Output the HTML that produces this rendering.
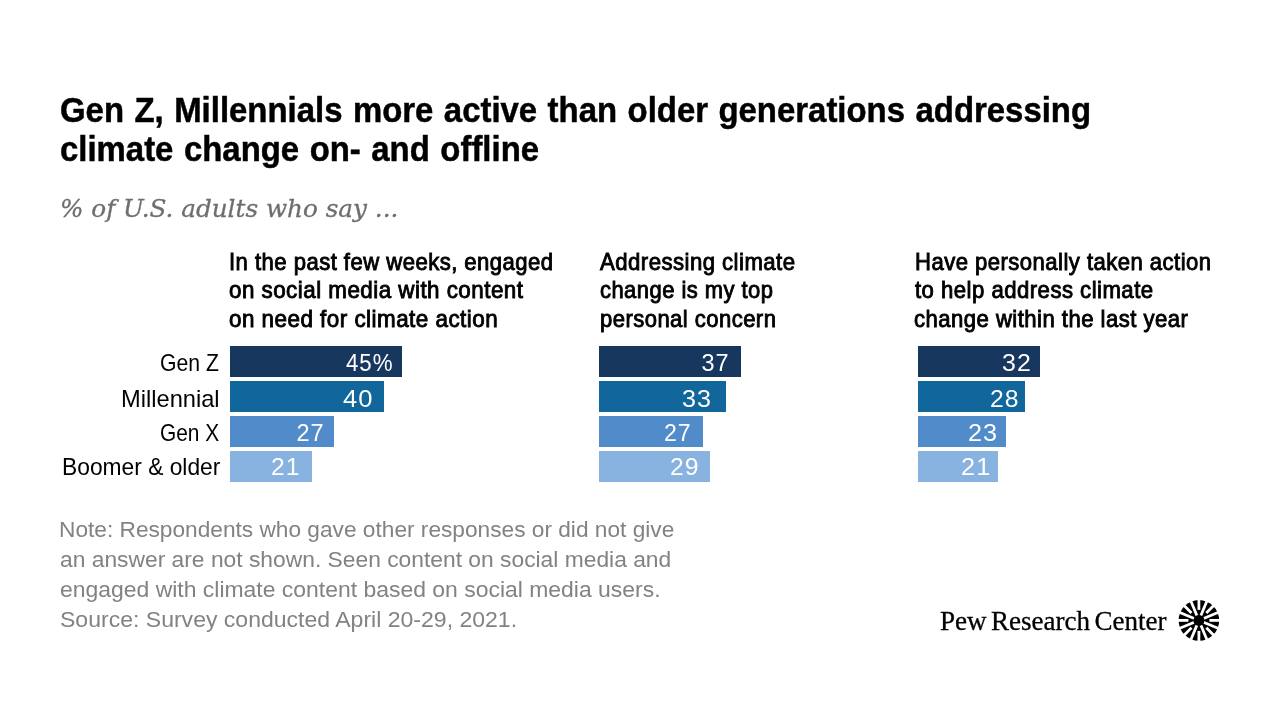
<!DOCTYPE html>
<html lang="en"><head><meta charset="utf-8"><title>Gen Z, Millennials more active than older generations addressing climate change on- and offline</title>
<style>
html,body{margin:0;padding:0;background:#fff}
body{width:1280px;height:720px;position:relative;overflow:hidden;font-family:"Liberation Sans",sans-serif}
span{position:absolute;white-space:pre;transform-origin:0 0;display:block}
.b{position:absolute;height:31.4px}
.logo{position:absolute;left:0;top:0}
</style></head><body>
<div class="b" style="left:230.1px;top:345.5px;width:171.9px;background:#17375e"></div>
<div class="b" style="left:230.1px;top:380.5px;width:153.9px;background:#11669b"></div>
<div class="b" style="left:230.1px;top:415.5px;width:104.1px;background:#528bca"></div>
<div class="b" style="left:230.1px;top:450.5px;width:81.7px;background:#88b2df"></div>
<div class="b" style="left:599px;top:345.5px;width:141.8px;background:#17375e"></div>
<div class="b" style="left:599px;top:380.5px;width:126.6px;background:#11669b"></div>
<div class="b" style="left:599px;top:415.5px;width:103.7px;background:#528bca"></div>
<div class="b" style="left:599px;top:450.5px;width:111.2px;background:#88b2df"></div>
<div class="b" style="left:917.5px;top:345.5px;width:122.3px;background:#17375e"></div>
<div class="b" style="left:917.5px;top:380.5px;width:107.3px;background:#11669b"></div>
<div class="b" style="left:917.5px;top:415.5px;width:88.1px;background:#528bca"></div>
<div class="b" style="left:917.5px;top:450.5px;width:80.4px;background:#88b2df"></div>
<svg class="logo" width="1280" height="720" viewBox="0 0 1280 720"><circle cx="1198.9" cy="620.4" r="20.3" fill="#000"/><g stroke="#fff" stroke-width="2.8"><line x1="1198.90" y1="609.90" x2="1198.90" y2="599.10"/><line x1="1200.81" y1="615.78" x2="1207.05" y2="600.72"/><line x1="1206.32" y1="612.98" x2="1213.96" y2="605.34"/><line x1="1203.52" y1="618.49" x2="1218.58" y2="612.25"/><line x1="1209.40" y1="620.40" x2="1220.20" y2="620.40"/><line x1="1203.52" y1="622.31" x2="1218.58" y2="628.55"/><line x1="1206.32" y1="627.82" x2="1213.96" y2="635.46"/><line x1="1200.81" y1="625.02" x2="1207.05" y2="640.08"/><line x1="1198.90" y1="630.90" x2="1198.90" y2="641.70"/><line x1="1196.99" y1="625.02" x2="1190.75" y2="640.08"/><line x1="1191.48" y1="627.82" x2="1183.84" y2="635.46"/><line x1="1194.28" y1="622.31" x2="1179.22" y2="628.55"/><line x1="1188.40" y1="620.40" x2="1177.60" y2="620.40"/><line x1="1194.28" y1="618.49" x2="1179.22" y2="612.25"/><line x1="1191.48" y1="612.98" x2="1183.84" y2="605.34"/><line x1="1196.99" y1="615.78" x2="1190.75" y2="600.72"/></g><circle cx="1198.9" cy="620.4" r="5.5" fill="#000"/></svg>
<span style="left:59.87px;top:93.00px;font:normal bold 35.4px/1 'Liberation Sans', sans-serif;color:#000;letter-spacing:0px;word-spacing:1.41px;transform:scaleX(0.9300);-webkit-text-stroke:0.5px #000;">Gen Z, Millennials more active than older generations addressing</span>
<span style="left:59.87px;top:131.70px;font:normal bold 35.4px/1 'Liberation Sans', sans-serif;color:#000;letter-spacing:0px;word-spacing:1.45px;transform:scaleX(0.9300);-webkit-text-stroke:0.5px #000;">climate change on- and offline</span>
<span style="left:59.52px;top:197.80px;font:italic normal 23.7px/1 'DejaVu Serif', serif;color:#6d6e71;letter-spacing:0px;word-spacing:0.00px;transform:scaleX(1.0417);-webkit-text-stroke:0.3px #6d6e71;">% of U.S. adults who say ...</span>
<span style="left:228.53px;top:250.50px;font:normal normal 23.6px/1 'Liberation Sans', sans-serif;color:#000;letter-spacing:0.5px;word-spacing:0.00px;transform:scaleX(0.9359);-webkit-text-stroke:0.9px #000;">In the past few weeks, engaged</span>
<span style="left:229.45px;top:279.40px;font:normal normal 23.6px/1 'Liberation Sans', sans-serif;color:#000;letter-spacing:0.5px;word-spacing:0.00px;transform:scaleX(0.9485);-webkit-text-stroke:0.9px #000;">on social media with content</span>
<span style="left:229.45px;top:308.30px;font:normal normal 23.6px/1 'Liberation Sans', sans-serif;color:#000;letter-spacing:0.5px;word-spacing:0.00px;transform:scaleX(0.9505);-webkit-text-stroke:0.9px #000;">on need for climate action</span>
<span style="left:599.50px;top:250.50px;font:normal normal 23.6px/1 'Liberation Sans', sans-serif;color:#000;letter-spacing:0.5px;word-spacing:0.00px;transform:scaleX(0.9384);-webkit-text-stroke:0.9px #000;">Addressing climate</span>
<span style="left:599.57px;top:279.40px;font:normal normal 23.6px/1 'Liberation Sans', sans-serif;color:#000;letter-spacing:0.5px;word-spacing:0.00px;transform:scaleX(0.9307);-webkit-text-stroke:0.9px #000;">change is my top</span>
<span style="left:599.57px;top:308.30px;font:normal normal 23.6px/1 'Liberation Sans', sans-serif;color:#000;letter-spacing:0.5px;word-spacing:0.00px;transform:scaleX(0.9332);-webkit-text-stroke:0.9px #000;">personal concern</span>
<span style="left:914.56px;top:250.50px;font:normal normal 23.6px/1 'Liberation Sans', sans-serif;color:#000;letter-spacing:0.5px;word-spacing:0.00px;transform:scaleX(0.9355);-webkit-text-stroke:0.9px #000;">Have personally taken action</span>
<span style="left:915.00px;top:279.40px;font:normal normal 23.6px/1 'Liberation Sans', sans-serif;color:#000;letter-spacing:0.5px;word-spacing:0.00px;transform:scaleX(0.9387);-webkit-text-stroke:0.9px #000;">to help address climate</span>
<span style="left:914.06px;top:308.30px;font:normal normal 23.6px/1 'Liberation Sans', sans-serif;color:#000;letter-spacing:0.5px;word-spacing:0.00px;transform:scaleX(0.9364);-webkit-text-stroke:0.9px #000;">change within the last year</span>
<span style="left:160.29px;top:352.00px;font:normal normal 23.2px/1 'Liberation Sans', sans-serif;color:#000;letter-spacing:0px;word-spacing:0.00px;transform:scaleX(0.9143);">Gen Z</span>
<span style="left:121.26px;top:388.00px;font:normal normal 23.2px/1 'Liberation Sans', sans-serif;color:#000;letter-spacing:0px;word-spacing:0.00px;transform:scaleX(1.0204);">Millennial</span>
<span style="left:160.30px;top:422.00px;font:normal normal 23.2px/1 'Liberation Sans', sans-serif;color:#000;letter-spacing:0px;word-spacing:0.00px;transform:scaleX(0.9000);">Gen X</span>
<span style="left:61.53px;top:456.00px;font:normal normal 23.2px/1 'Liberation Sans', sans-serif;color:#000;letter-spacing:0px;word-spacing:0.00px;transform:scaleX(0.9830);">Boomer &amp; older</span>
<span style="left:345.85px;top:352.00px;font:normal normal 23.5px/1 'Liberation Sans', sans-serif;color:#fff;letter-spacing:1px;word-spacing:0.00px;transform:scaleX(0.9489);">45%</span>
<span style="left:342.91px;top:388.00px;font:normal normal 23.5px/1 'Liberation Sans', sans-serif;color:#fff;letter-spacing:1px;word-spacing:0.00px;transform:scaleX(1.0880);">40</span>
<span style="left:296.50px;top:422.00px;font:normal normal 23.5px/1 'Liberation Sans', sans-serif;color:#fff;letter-spacing:1px;word-spacing:0.00px;transform:scaleX(1.0000);">27</span>
<span style="left:271.45px;top:456.00px;font:normal normal 23.5px/1 'Liberation Sans', sans-serif;color:#fff;letter-spacing:1px;word-spacing:0.00px;transform:scaleX(1.0500);">21</span>
<span style="left:701.50px;top:352.00px;font:normal normal 23.5px/1 'Liberation Sans', sans-serif;color:#fff;letter-spacing:1px;word-spacing:0.00px;transform:scaleX(1.0000);">37</span>
<span style="left:681.63px;top:388.00px;font:normal normal 23.5px/1 'Liberation Sans', sans-serif;color:#fff;letter-spacing:1px;word-spacing:0.00px;transform:scaleX(1.0680);">33</span>
<span style="left:664.42px;top:422.00px;font:normal normal 23.5px/1 'Liberation Sans', sans-serif;color:#fff;letter-spacing:1px;word-spacing:0.00px;transform:scaleX(0.9840);">27</span>
<span style="left:669.55px;top:456.00px;font:normal normal 23.5px/1 'Liberation Sans', sans-serif;color:#fff;letter-spacing:1px;word-spacing:0.00px;transform:scaleX(1.0520);">29</span>
<span style="left:1001.64px;top:352.00px;font:normal normal 23.5px/1 'Liberation Sans', sans-serif;color:#fff;letter-spacing:1px;word-spacing:0.00px;transform:scaleX(1.0600);">32</span>
<span style="left:989.95px;top:388.00px;font:normal normal 23.5px/1 'Liberation Sans', sans-serif;color:#fff;letter-spacing:1px;word-spacing:0.00px;transform:scaleX(1.0520);">28</span>
<span style="left:968.33px;top:422.00px;font:normal normal 23.5px/1 'Liberation Sans', sans-serif;color:#fff;letter-spacing:1px;word-spacing:0.00px;transform:scaleX(1.0740);">23</span>
<span style="left:961.02px;top:456.00px;font:normal normal 23.5px/1 'Liberation Sans', sans-serif;color:#fff;letter-spacing:1px;word-spacing:0.00px;transform:scaleX(1.0760);">21</span>
<span style="left:58.57px;top:519.40px;font:normal normal 22.4px/1 'Liberation Sans', sans-serif;color:#808285;letter-spacing:0px;word-spacing:0.00px;transform:scaleX(1.0129);">Note: Respondents who gave other responses or did not give</span>
<span style="left:59.58px;top:549.40px;font:normal normal 22.4px/1 'Liberation Sans', sans-serif;color:#808285;letter-spacing:0px;word-spacing:0.00px;transform:scaleX(1.0188);">an answer are not shown. Seen content on social media and</span>
<span style="left:59.58px;top:579.40px;font:normal normal 22.4px/1 'Liberation Sans', sans-serif;color:#808285;letter-spacing:0px;word-spacing:0.00px;transform:scaleX(1.0244);">engaged with climate content based on social media users.</span>
<span style="left:59.57px;top:609.40px;font:normal normal 22.4px/1 'Liberation Sans', sans-serif;color:#808285;letter-spacing:0px;word-spacing:0.00px;transform:scaleX(1.0286);">Source: Survey conducted April 20-29, 2021.</span>
<span style="left:939.71px;top:607.80px;font:normal normal 27.2px/1 'Liberation Serif', serif;color:#000;letter-spacing:0px;word-spacing:-2.43px;transform:scaleX(0.9950);-webkit-text-stroke:0.3px #000;">Pew Research Center</span>
</body></html>
